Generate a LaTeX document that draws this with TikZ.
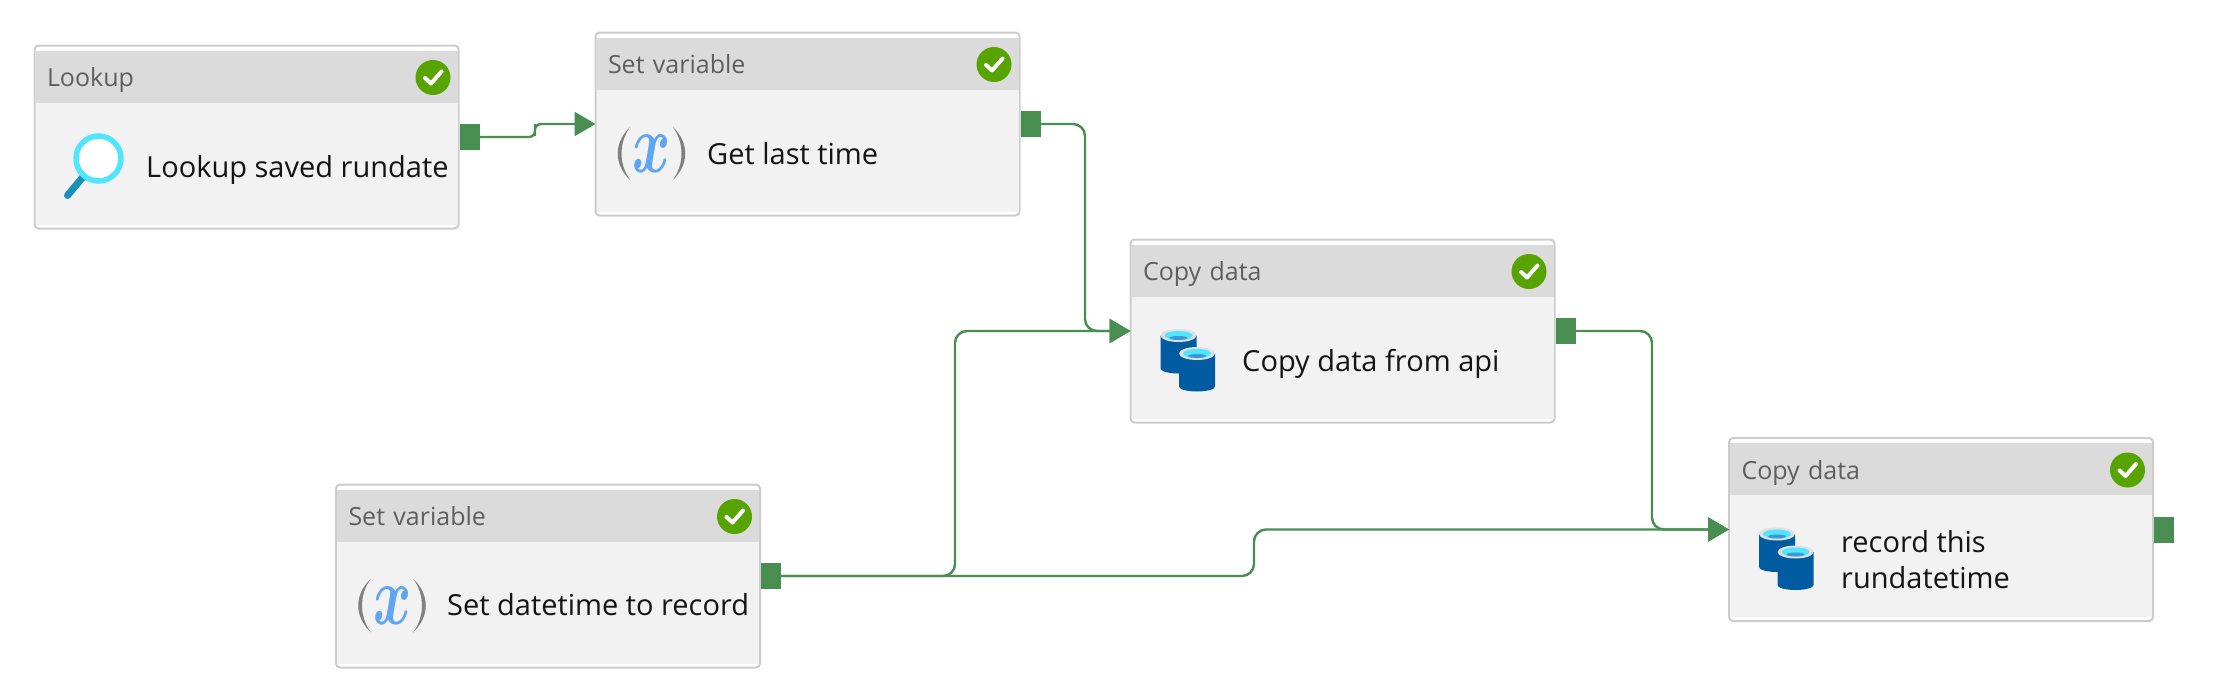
\documentclass[tikz,border=0pt]{standalone}
\usepackage{fontspec}
\usepackage{bm}
\setmainfont{Open Sans}
\usetikzlibrary{positioning,arrows.meta}

\definecolor{wiregreen}{HTML}{488E50}
\definecolor{okgreen}{HTML}{57A300}
\definecolor{dbblue}{HTML}{005BA1}
\definecolor{cyanring}{HTML}{50E6FF}
\definecolor{lenshandle}{HTML}{1A8FBB}
\definecolor{xblue}{HTML}{5EA5F2}

\tikzset{
  box/.style={draw=black!20,line width=2pt,fill=white,rounded corners=4pt,minimum width=424pt,minimum height=183pt,outer sep=0pt},
  head/.style={fill=black!14,minimum width=422pt,minimum height=54pt,outer sep=0pt,inner sep=0pt,text=black!63,text height=18pt,text depth=0pt,font=\fontsize{25}{30}\selectfont},
  pane/.style={fill=black!5,minimum width=422pt,minimum height=122pt,outer sep=0pt,inner sep=0pt},
  tasktext/.style={anchor=base west,inner sep=0pt,align=left,text=black!92,font=\fontsize{29}{36}\selectfont},
  port/.style={fill=wiregreen,minimum width=20pt,minimum height=26pt,inner sep=0pt,outer sep=0pt},
  wire/.style={draw=wiregreen,line width=2.4pt,rounded corners=12pt,-{Triangle[length=21pt,width=24pt]}},
  okmark/.pic={
    \fill[okgreen] (-25.5,32) circle (17.5);
    \draw[white,line width=4pt,line cap=round,line join=round] (-33.5,32.5) -- (-27.5,38) -- (-17,26);
  },
  lensicon/.pic={
    \draw[draw=lenshandle,line width=7pt,line cap=round] (48,132) -- (33,150);
    \draw[draw=cyanring,fill=white,line width=5.5pt] (64,113) circle (22.5);
  },
  xicon/.pic={
    \fill[black!50] (35,94) .. controls (18,110) and (18,132) .. (35,148) .. controls (23,132) and (23,110) .. (35,94);
    \fill[black!50] (77,94) .. controls (94,110) and (94,132) .. (77,148) .. controls (89,132) and (89,110) .. (77,94);
    \node[text=xblue,inner sep=0pt,xscale=5.8,yscale=8.4] (letter) at (56.5,121.5) {$\bm{x}$};
  },
  dbicon/.pic={
    \foreach \cx/\cy in {48/96,66.5/114} {
      \fill[dbblue] (\cx-18,\cy) -- (\cx-18,\cy+33) arc[start angle=180,end angle=360,x radius=18,y radius=-5] -- (\cx+18,\cy) -- cycle;
      \fill[black!12] (\cx,\cy) ellipse (18 and 6.5);
      \fill[cyanring] (\cx,\cy) ellipse (14 and 4.5);
      \fill[cyan!70!blue!80] (\cx,\cy+2.5) ellipse (9 and 2);
    }
  }
}

\begin{document}
\begin{tikzpicture}[x=1pt,y=-1pt]
\useasboundingbox (0,0) rectangle (2217,699);

% Lookup
\node[box] (lookup) at (246.5,137) {};
\node[head,text width=399pt,below=5pt of lookup.north] (lookuphead) {Lookup};
\node[pane,above=4pt of lookup.south] (lookuppane) {};
\node[tasktext] (lookuptext) at (146,177) {Lookup saved rundate};
\node[port,right=1pt of lookup] (lookupout) {};
\pic at (lookup.north west) {lensicon};
\pic at (lookup.north east) {okmark};

% first variable
\node[box] (getlast) at (807.5,124) {};
\node[head,text width=399pt,below=5pt of getlast.north] (getlasthead) {Set variable};
\node[pane,above=4pt of getlast.south] (getlastpane) {};
\node[tasktext] (getlasttext) at (707,164) {Get last time};
\node[port,right=1pt of getlast] (getlastout) {};
\pic at (getlast.north west) {xicon};
\pic at (getlast.north east) {okmark};

% copy from api
\node[box] (copyapi) at (1342.5,331) {};
\node[head,text width=399pt,below=5pt of copyapi.north] (copyapihead) {Copy data};
\node[pane,above=4pt of copyapi.south] (copyapipane) {};
\node[tasktext] (copyapitext) at (1242,371) {Copy data from api};
\node[port,right=1pt of copyapi] (copyapiout) {};
\pic at (copyapi.north west) {dbicon};
\pic at (copyapi.north east) {okmark};

% second variable
\node[box] (setdate) at (548,576) {};
\node[head,text width=399pt,below=5pt of setdate.north] (setdatehead) {Set variable};
\node[pane,above=4pt of setdate.south] (setdatepane) {};
\node[tasktext] (setdatetext) at (447,615) {Set datetime to record};
\node[port,right=1pt of setdate] (setdateout) {};
\pic at (setdate.north west) {xicon};
\pic at (setdate.north east) {okmark};

% record
\node[box] (record) at (1941,529.5) {};
\node[head,text width=399pt,below=5pt of record.north] (recordhead) {Copy data};
\node[pane,above=4pt of record.south] (recordpane) {};
\node[tasktext,anchor=west] (recordtext) at (1841,560) {record this\\rundatetime};
\node[port,right=1pt of record] (recordout) {};
\pic at (record.north west) {dbicon};
\pic at (record.north east) {okmark};

% bends
\coordinate (bendA) at (535,130);
\coordinate (bendB) at (1085,220);
\coordinate (bendC) at (955,450);
\coordinate (bendD) at (1254,550);
\coordinate (bendE) at (1652,430);

\draw[wire,rounded corners=6pt] (lookupout.east) -| (bendA) |- (getlast.west);
\draw[wire] (getlastout.east) -| (bendB) |- (copyapi.west);
\draw[wire] (setdateout.east) -| (bendC) |- (copyapi.west);
\draw[wire] (setdateout.east) -| (bendD) |- (record.west);
\draw[wire] (copyapiout.east) -| (bendE) |- (record.west);
\end{tikzpicture}
\end{document}
